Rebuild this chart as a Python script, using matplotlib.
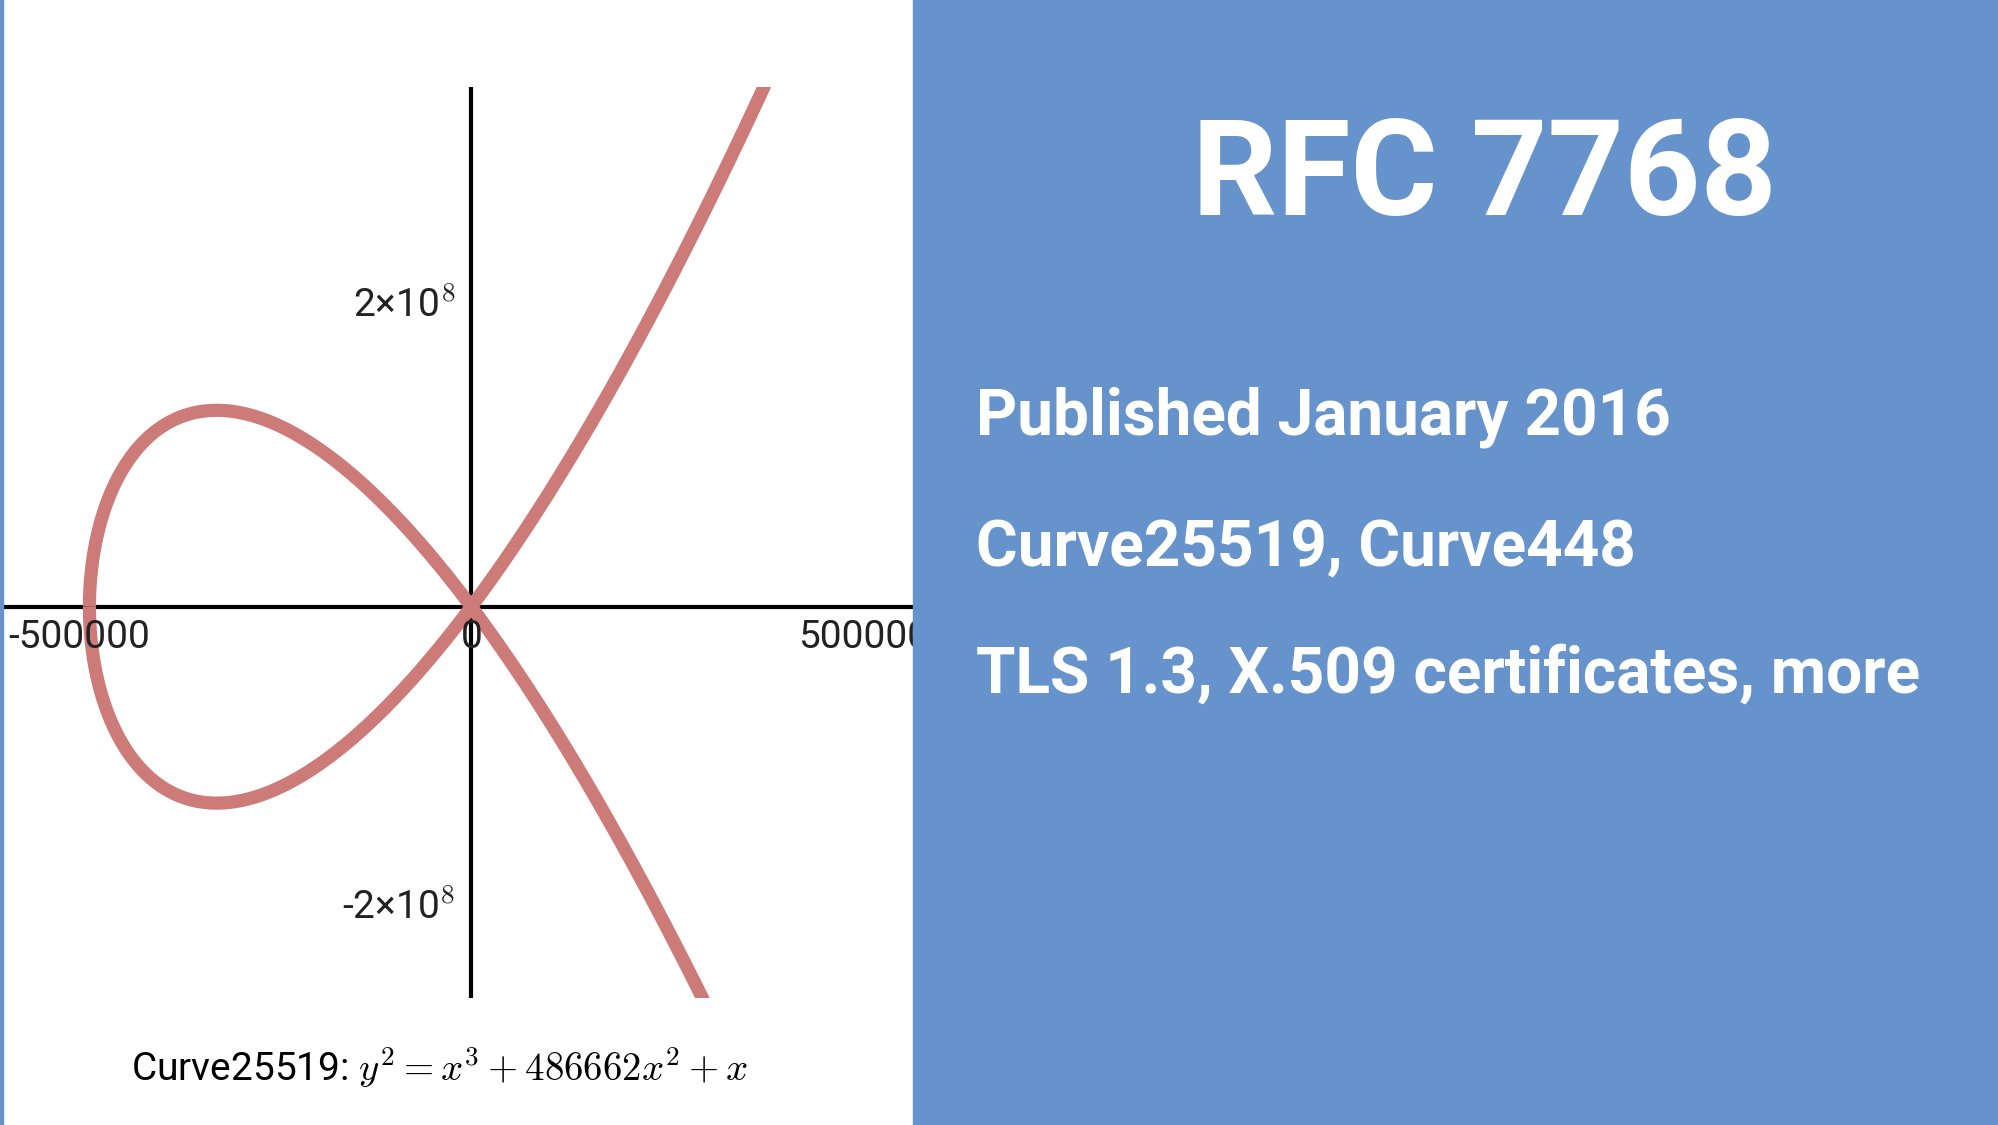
import numpy as np
import matplotlib
matplotlib.use("Agg")
import matplotlib.pyplot as plt
from matplotlib.patches import Rectangle

A = 486662
x_ticks = [-500000, 0, 500000]
x_tick_labels = ["-500000", "0", "500000"]
y_ticks = [2e8, -2e8]
y_tick_labels = [r"2×10$^8$", r"-2×10$^8$"]
title = "RFC 7768"
bullets = ["Published January 2016", "Curve25519, Curve448", "TLS 1.3, X.509 certificates, more"]
caption_name = "Curve25519: "
caption_eq = r"$y^2 = x^3 + 486662x^2 + x$"

plt.rcParams['mathtext.fontset'] = 'cm'
narrow = ['Liberation Sans Narrow', 'Roboto', 'DejaVu Sans']

fig = plt.figure(figsize=(19.98, 11.25), dpi=100)
fig.patches.append(Rectangle((0.457, 0), 0.543, 1, transform=fig.transFigure, color='#6693CB', zorder=0))
fig.patches.append(Rectangle((0, 0), 0.0015, 1, transform=fig.transFigure, color='#6693CB', zorder=0))

ax = fig.add_axes([0, 0.1133, 0.457, 0.8097])
ax.set_xlim(-600650, 563000)
ax.set_ylim(-2.6e8, 3.46e8)
for s in ax.spines.values():
    s.set_visible(False)
ax.set_xticks([]); ax.set_yticks([])
ax.patch.set_alpha(0)

xs = np.linspace(-A, 420000, 20000)
val = xs**3 + A * xs**2 + xs
val = np.clip(val, 0, None)
yy = np.sqrt(val)
ax.plot(xs, yy, color='#CD7B79', lw=9.5, solid_capstyle='butt', zorder=2)
ax.plot(xs, -yy, color='#CD7B79', lw=9.5, solid_capstyle='butt', zorder=2)
ax.axhline(0, color='black', lw=3, zorder=1)
ax.axvline(0, color='black', lw=3, zorder=1)

for xv, lab in zip(x_ticks, x_tick_labels):
    ax.text(xv, -0.08e8, lab, ha='center', va='top', fontsize=28, family='Roboto', color='#222222')
for yv, lab in zip(y_ticks, y_tick_labels):
    ax.text(-0.2e5, yv, lab, ha='right', va='center', fontsize=28, family='Roboto', color='#222222')

fig.text(0.22, 0.051, caption_name + caption_eq, ha='center', va='center', fontsize=28, family=narrow)

fig.text(0.743, 0.841, title, ha='center', va='center', fontsize=96, fontweight='bold', family=narrow, color='white')
for yv, b in zip([0.629, 0.513, 0.400], bullets):
    fig.text(0.4885, yv, b, ha='left', va='center', fontsize=46, fontweight='bold', family=narrow, color='white')

fig.savefig('out.png', dpi=100)
